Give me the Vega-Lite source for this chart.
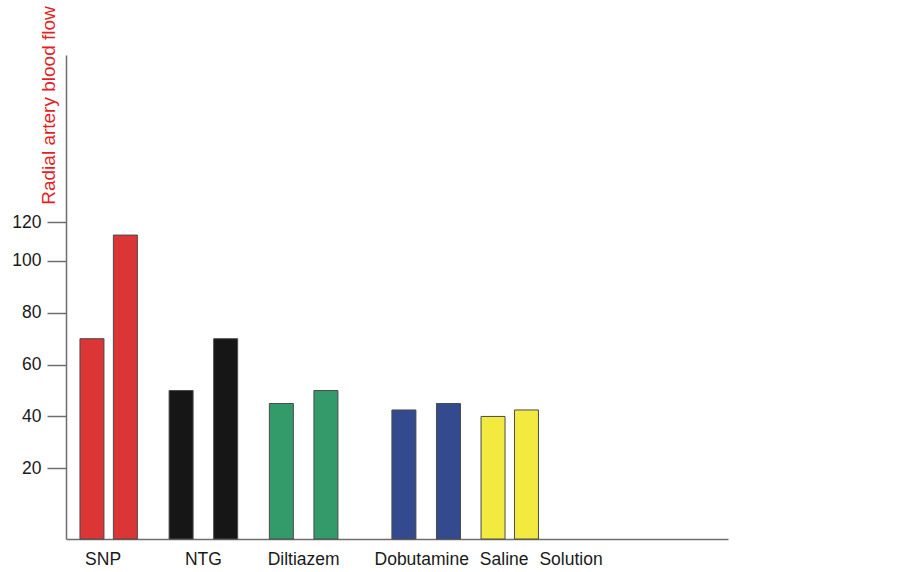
{
  "$schema": "https://vega.github.io/schema/vega-lite/v6.json",
  "width": 662,
  "height": 484,
  "autosize": {"type": "none"},
  "padding": {"left": 66, "top": 55, "right": 175, "bottom": 33},
  "background": "white",
  "config": {
    "font": "Liberation Sans",
    "view": {"stroke": null}
  },
  "data": {
    "values": [
      {"drug": "SNP", "bar": "SNP 1", "flow": 70},
      {"drug": "SNP", "bar": "SNP 2", "flow": 110},
      {"drug": "NTG", "bar": "NTG 1", "flow": 50},
      {"drug": "NTG", "bar": "NTG 2", "flow": 70},
      {"drug": "Diltiazem", "bar": "Diltiazem 1", "flow": 45},
      {"drug": "Diltiazem", "bar": "Diltiazem 2", "flow": 50},
      {"drug": "Dobutamine", "bar": "Dobutamine 1", "flow": 42.5},
      {"drug": "Dobutamine", "bar": "Dobutamine 2", "flow": 45},
      {"drug": "Saline", "bar": "Saline 1", "flow": 40},
      {"drug": "Saline", "bar": "Saline 2", "flow": 42.5}
    ]
  },
  "mark": {"type": "bar", "width": 24, "stroke": "#4a4a4a", "strokeWidth": 1},
  "encoding": {
    "x": {
      "field": "bar",
      "type": "nominal",
      "scale": {
        "domain": ["g0", "SNP 1", "SNP", "g2", "SNP 2", "g4", "g5", "g6", "g7",
                   "NTG 1", "g9", "NTG", "g11", "NTG 2", "g13", "g14", "g15", "g16",
                   "Diltiazem 1", "g18", "Diltiazem", "g20", "Diltiazem 2", "g22", "g23", "g24", "g25", "g26", "g27",
                   "Dobutamine 1", "g29", "Dobutamine", "g30", "Dobutamine 2", "g33", "g34", "g35",
                   "Saline 1", "Saline", "g38", "Saline 2", "g40", "g41", "g42", "Solution",
                   "t1", "t2", "t3", "t4", "t5", "t6", "t7", "t8", "t9", "t10", "t11", "t12", "t13"],
        "paddingInner": 0,
        "paddingOuter": 0.71,
        "align": 0.585
      },
      "axis": {
        "title": null,
        "values": ["SNP", "NTG", "Diltiazem", "Dobutamine", "Saline", "Solution"],
        "ticks": false,
        "labelAngle": 0,
        "labelFontSize": 17.5,
        "labelColor": "#1a1a1a",
        "labelPadding": 11,
        "labelOffset": {"condition": {"test": "datum.value === 'Dobutamine'", "value": -4.5}, "value": 0},
        "domainColor": "#6e6e6e",
        "domainWidth": 1.5,
        "grid": false
      }
    },
    "y": {
      "field": "flow",
      "type": "quantitative",
      "scale": {"domain": [-7.3, 179.5], "nice": false, "zero": false},
      "axis": {
        "title": "Radial artery blood flow",
        "titleColor": "#e31e24",
        "titleFontSize": 19,
        "titleFontWeight": "normal",
        "titleAngle": -90,
        "titleAlign": "center",
        "titleBaseline": "alphabetic",
        "titleX": -12,
        "titleY": 50,
        "values": [20, 40, 60, 80, 100, 115],
        "labelExpr": "datum.value == 115 ? '120' : datum.label",
        "labelFontSize": 17.5,
        "labelColor": "#1a1a1a",
        "labelPadding": 6,
        "tickSize": 19,
        "tickColor": "#6e6e6e",
        "tickWidth": 1.5,
        "domainColor": "#6e6e6e",
        "domainWidth": 1.5,
        "grid": false
      }
    },
    "y2": {"datum": -7.3},
    "color": {
      "field": "drug",
      "type": "nominal",
      "scale": {
        "domain": ["SNP", "NTG", "Diltiazem", "Dobutamine", "Saline"],
        "range": ["#dc3535", "#161616", "#339b6a", "#344a8f", "#f2ea3e"]
      },
      "legend": null
    }
  }
}
